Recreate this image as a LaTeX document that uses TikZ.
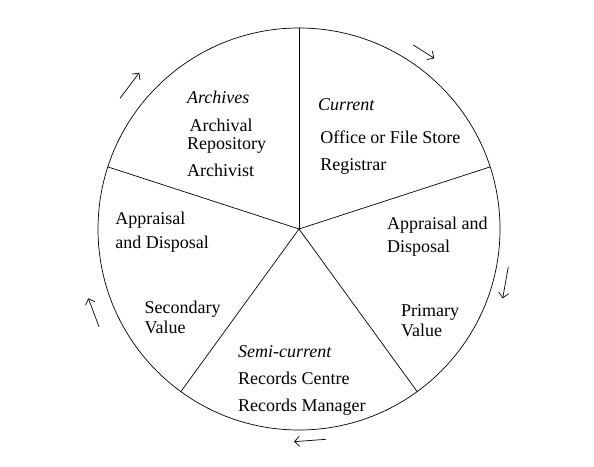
\documentclass[tikz,border=0pt]{standalone}
\usepackage{fontspec}
\setmainfont{Liberation Serif}
\usepackage{tikz}
\usetikzlibrary{positioning,calc,arrows.meta}
\tikzset{lbl/.style={anchor=base west,inner sep=0pt,font=\fontsize{18}{21}\selectfont},
	flow/.style={-{Straight Barb[length=5pt,width=10pt]}}}
\begin{document}
\begin{tikzpicture}[x=1pt,y=1pt,line width=0.7pt]
	\useasboundingbox (0,0) rectangle (594,466);
	\coordinate (c) at (299,237);
	\coordinate (r1) at ($(c)+(90:201)$);
	\coordinate (r2) at ($(c)+(18:201)$);
	\coordinate (r3) at ($(c)+(-54:201)$);
	\coordinate (r4) at ($(c)+(-126:201)$);
	\coordinate (r5) at ($(c)+(162:201)$);
	\draw (c) circle (201);
	\foreach \r in {r1,r2,r3,r4,r5}
		\draw (c) to (\r);
	\node[lbl] (arch) at (186.7,362) {\textit{Archives}};
	\node[lbl] (archrep1) at (189.3,334.3) {Archival};
	\node[lbl] (archrep2) at (186.7,316) {Repository};
	\node[lbl] (archist) at (186.7,289.3) {Archivist};
	\node[lbl] (cur) at (317.7,355) {\textit{Current}};
	\node[lbl] (office) at (320,322) {Office or File Store};
	\node[lbl] (reg) at (320,295.3) {Registrar};
	\node[lbl] (appl1) at (115,241) {Appraisal};
	\node[lbl] (appl2) at (115,217.7) {and Disposal};
	\node[lbl] (appr1) at (386.7,236) {Appraisal and};
	\node[lbl] (appr2) at (386.7,213.7) {Disposal};
	\node[lbl] (sec1) at (144.3,152.7) {Secondary};
	\node[lbl] (sec2) at (144.3,132) {Value};
	\node[lbl] (prim1) at (400.7,149.3) {Primary};
	\node[lbl] (prim2) at (400.7,129.3) {Value};
	\node[lbl] (semi) at (237.7,108.7) {\textit{Semi-current}};
	\node[lbl] (rcen) at (237.7,82) {Records Centre};
	\node[lbl] (rman) at (237.7,55) {Records Manager};
	\coordinate (a1s) at (120,367.7);
	\coordinate (a1e) at (139.3,393.3);
	\coordinate (a2s) at (413.3,421);
	\coordinate (a2e) at (434.3,407.7);
	\coordinate (a3s) at (508.3,199.3);
	\coordinate (a3e) at (502.7,167.7);
	\coordinate (a4s) at (326,26.7);
	\coordinate (a4e) at (294,24.3);
	\coordinate (a5s) at (99,139.3);
	\coordinate (a5e) at (88.3,167.7);
	\foreach \a in {a1,a2,a3,a4,a5}
		\draw [flow] (\a s) to (\a e);
\end{tikzpicture}
\end{document}
